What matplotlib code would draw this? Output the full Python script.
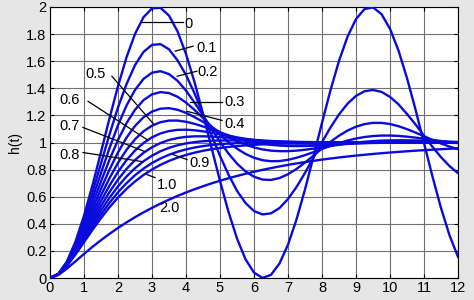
import matplotlib
matplotlib.use("Agg")
import matplotlib.pyplot as plt

plt.rcParams['font.family'] = ['Liberation Sans', 'DejaVu Sans']

t = [0, 0.25, 0.5, 0.75, 1, 1.25, 1.5, 1.75, 2, 2.25, 2.5, 2.75, 3, 3.25, 3.5, 3.75,
     4, 4.25, 4.5, 4.75, 5, 5.25, 5.5, 5.75, 6, 6.25, 6.5, 6.75, 7, 7.25, 7.5, 7.75,
     8, 8.25, 8.5, 8.75, 9, 9.25, 9.5, 9.75, 10, 10.25, 10.5, 10.75, 11, 11.25, 11.5,
     11.75, 12]

h_z00 = [0, 0.0311, 0.1224, 0.2683, 0.4597, 0.6847, 0.9293, 1.1782, 1.4161, 1.6282,
         1.8011, 1.9243, 1.9900, 1.9941, 1.9365, 1.8206, 1.6536, 1.4461, 1.2108, 0.9624,
         0.7163, 0.4879, 0.2913, 0.1388, 0.0398, 0.0006, 0.0234, 0.1070, 0.2461, 0.4318,
         0.6534, 0.8962, 1.1455, 1.3857, 1.6020, 1.7809, 1.9111, 1.9848, 1.9972, 1.9476,
         1.8391, 1.6786, 1.4755, 1.2432, 0.9956, 0.7483, 0.5167, 0.3152, 0.1561]
h_z01 = [0, 0.0306, 0.1184, 0.2556, 0.4310, 0.6324, 0.8464, 1.0594, 1.2581, 1.4306,
         1.5708, 1.6684, 1.7205, 1.7260, 1.6875, 1.6067, 1.4984, 1.3632, 1.2108, 1.0539,
         0.9013, 0.7632, 0.6432, 0.5536, 0.4941, 0.4693, 0.4772, 0.5163, 0.5830, 0.6716,
         0.7758, 0.8886, 1.0026, 1.1109, 1.2070, 1.2862, 1.3437, 1.3783, 1.3877, 1.3736,
         1.3366, 1.2819, 1.2103, 1.1335, 1.0503, 0.9680, 0.8918, 0.8260, 0.7736]
h_z02 = [0, 0.0301, 0.1146, 0.2436, 0.4052, 0.5862, 0.7747, 0.9588, 1.1280, 1.2726,
         1.3877, 1.4692, 1.5152, 1.5261, 1.5050, 1.4557, 1.3829, 1.2950, 1.2007, 1.1014,
         1.0055, 0.9185, 0.8444, 0.7868, 0.7473, 0.7264, 0.7237, 0.7377, 0.7657, 0.8050,
         0.8519, 0.9035, 0.9556, 1.0055, 1.0504, 1.0879, 1.1167, 1.1357, 1.1450, 1.1448,
         1.1361, 1.1201, 1.0986, 1.0732, 1.0466, 1.0186, 0.9927, 0.9698, 0.9506]
h_z03 = [0, 0.0296, 0.1111, 0.2326, 0.3814, 0.5454, 0.7125, 0.8731, 1.0187, 1.1428,
         1.2415, 1.3124, 1.3556, 1.3720, 1.3647, 1.3378, 1.2947, 1.2410, 1.1799, 1.1182,
         1.0573, 1.0019, 0.9545, 0.9157, 0.8874, 0.8693, 0.8619, 0.8632, 0.8721, 0.8873,
         0.9068, 0.9289, 0.9522, 0.9749, 0.9959, 1.0142, 1.0292, 1.0404, 1.0476, 1.0512,
         1.0513, 1.0484, 1.0431, 1.0360, 1.0278, 1.0193, 1.0108, 1.0028, 0.9958]
h_z04 = [0, 0.0291, 0.1077, 0.2222, 0.3599, 0.5091, 0.6583, 0.7998, 0.9271, 1.0356,
         1.1221, 1.1862, 1.2284, 1.2496, 1.2532, 1.2418, 1.2188, 1.1874, 1.1527, 1.1133,
         1.0761, 1.0411, 1.0102, 0.9841, 0.9638, 0.9490, 0.9398, 0.9359, 0.9362, 0.9400,
         0.9465, 0.9549, 0.9642, 0.9739, 0.9833, 0.9920, 0.9995, 1.0057, 1.0104, 1.0137,
         1.0156, 1.0164, 1.0160, 1.0148, 1.0130, 1.0108, 1.0084, 1.0060, 1.0036]
h_z05 = [0, 0.0286, 0.1044, 0.2127, 0.3403, 0.4759, 0.6105, 0.7366, 0.8495, 0.9456,
         1.0234, 1.0827, 1.1243, 1.1500, 1.1617, 1.1618, 1.1532, 1.1378, 1.1183, 1.0972,
         1.0744, 1.0533, 1.0336, 1.0165, 1.0024, 0.9911, 0.9828, 0.9774, 0.9744, 0.9735,
         0.9742, 0.9761, 0.9790, 0.9824, 0.9860, 0.9896, 0.9929, 0.9959, 0.9985, 1.0006,
         1.0022, 1.0033, 1.0040, 1.0043, 1.0043, 1.0041, 1.0037, 1.0031, 1.0026]
h_z06 = [0, 0.0282, 0.1013, 0.2038, 0.3223, 0.4466, 0.5684, 0.6819, 0.7830, 0.8696,
         0.9407, 0.9966, 1.0382, 1.0669, 1.0846, 1.0932, 1.0945, 1.0905, 1.0826, 1.0723,
         1.0608, 1.0491, 1.0377, 1.0272, 1.0180, 1.0102, 1.0039, 0.9990, 0.9955, 0.9931,
         0.9917, 0.9911, 0.9911, 0.9916, 0.9924, 0.9935, 0.9946, 0.9957, 0.9967, 0.9977,
         0.9985, 0.9992, 0.9998, 1.0002, 1.0005, 1.0007, 1.0008, 1.0009, 1.0008]
h_z07 = [0, 0.0277, 0.0983, 0.1953, 0.3060, 0.4202, 0.5313, 0.6340, 0.7257, 0.8047,
         0.8705, 0.9239, 0.9652, 0.9964, 1.0185, 1.0329, 1.0416, 1.0454, 1.0458, 1.0436,
         1.0399, 1.0350, 1.0298, 1.0246, 1.0196, 1.0151, 1.0111, 1.0077, 1.0049, 1.0027,
         1.0010, 0.9997, 0.9988, 0.9983, 0.9980, 0.9978, 0.9979, 0.9980, 0.9982, 0.9984,
         0.9987, 0.9990, 0.9992, 0.9994, 0.9996, 0.9998, 0.9999, 1.0000, 1.0000]
h_z08 = [0, 0.0274, 0.0955, 0.1875, 0.2909, 0.3965, 0.4982, 0.5921, 0.6759, 0.7488,
         0.8104, 0.8615, 0.9028, 0.9355, 0.9607, 0.9796, 0.9933, 1.0029, 1.0091, 1.0129,
         1.0147, 1.0152, 1.0147, 1.0137, 1.0122, 1.0107, 1.0091, 1.0075, 1.0061, 1.0048,
         1.0038, 1.0028, 1.0021, 1.0015, 1.0010, 1.0007, 1.0004, 1.0002, 1.0001, 1.0000,
         0.9999, 0.9999, 0.9999, 0.9999, 0.9999, 1.0000, 1.0000, 1.0000, 1.0000]
h_z09 = [0, 0.0269, 0.0929, 0.1802, 0.2769, 0.3748, 0.4687, 0.5551, 0.6324, 0.7001,
         0.7583, 0.8074, 0.8485, 0.8822, 0.9096, 0.9317, 0.9492, 0.9628, 0.9734, 0.9815,
         0.9876, 0.9920, 0.9953, 0.9976, 0.9992, 1.0003, 1.0009, 1.0013, 1.0015, 1.0015,
         1.0015, 1.0014, 1.0013, 1.0012, 1.0011, 1.0010, 1.0009, 1.0008, 1.0007, 1.0006,
         1.0005, 1.0004, 1.0004, 1.0003, 1.0003, 1.0002, 1.0002, 1.0001, 1.0001]
h_z10 = [0, 0.0265, 0.0902, 0.1734, 0.2642, 0.3554, 0.4422, 0.5221, 0.5940, 0.6575,
         0.7127, 0.7603, 0.8009, 0.8352, 0.8641, 0.8883, 0.9084, 0.9251, 0.9389, 0.9503,
         0.9596, 0.9672, 0.9734, 0.9785, 0.9826, 0.9860, 0.9887, 0.9909, 0.9927, 0.9941,
         0.9953, 0.9962, 0.9970, 0.9976, 0.9981, 0.9985, 0.9988, 0.9990, 0.9992, 0.9994,
         0.9995, 0.9996, 0.9997, 0.9998, 0.9998, 0.9998, 0.9999, 0.9999, 0.9999]
h_z20 = [0, 0.0228, 0.0697, 0.1234, 0.1777, 0.2299, 0.2794, 0.3259, 0.3695, 0.4103,
         0.4486, 0.4842, 0.5177, 0.5489, 0.5782, 0.6054, 0.6311, 0.6549, 0.6773, 0.6982,
         0.7178, 0.7360, 0.7531, 0.7691, 0.7841, 0.7981, 0.8111, 0.8234, 0.8348, 0.8455,
         0.8555, 0.8649, 0.8736, 0.8818, 0.8895, 0.8966, 0.9033, 0.9096, 0.9154, 0.9209,
         0.9260, 0.9308, 0.9353, 0.9395, 0.9434, 0.9471, 0.9505, 0.9537, 0.9567]

series = [h_z00, h_z01, h_z02, h_z03, h_z04, h_z05, h_z06, h_z07, h_z08, h_z09, h_z10, h_z20]

labels = ["0", "0.1", "0.2", "0.3", "0.4", "0.5", "0.6", "0.7", "0.8", "0.9", "1.0", "2.0"]
# label text anchor (x, y) and leader line (x0, y0, x1, y1) in data units
label_pos = [(3.95, 1.874), (4.30, 1.70), (4.33, 1.52), (5.12, 1.296), (5.12, 1.133),
             (1.03, 1.504), (0.27, 1.311), (0.27, 1.119), (0.27, 0.911), (4.10, 0.852),
             (3.13, 0.689), (3.22, 0.519)]
leaders = [(2.71, 1.889, 3.91, 1.889), (3.68, 1.674, 4.21, 1.711), (3.74, 1.489, 4.32, 1.526),
           (4.12, 1.296, 5.06, 1.296), (4.03, 1.230, 5.06, 1.163), (1.82, 1.489, 3.03, 1.141),
           (1.12, 1.304, 2.85, 1.022), (0.97, 1.111, 2.79, 0.933), (0.97, 0.926, 2.71, 0.859),
           (3.62, 0.911, 4.03, 0.874), (2.85, 0.763, 3.09, 0.741), None]

fig = plt.figure(figsize=(4.74, 3.0), dpi=100, facecolor='#e6e6e6')
ax = fig.add_axes([50 / 474, 22 / 300, 408 / 474, 271 / 300])
ax.set_facecolor('white')

for s in series:
    ax.plot(t, s, color='#0a0adc', linewidth=1.7, solid_joinstyle='round', zorder=3)

for lab, (tx, ty), ld in zip(labels, label_pos, leaders):
    if ld is not None:
        ax.plot([ld[0], ld[2]], [ld[1], ld[3]], color='black', linewidth=0.9, zorder=4)
    ax.text(tx, ty, lab, fontsize=10.5, ha='left', va='center', color='black', zorder=5)

ax.set_xlim(0, 12)
ax.set_ylim(0, 2)
ax.set_xticks(range(0, 13))
yt = [0, 0.2, 0.4, 0.6, 0.8, 1, 1.2, 1.4, 1.6, 1.8, 2]
ax.set_yticks(yt)
ax.set_yticklabels(["0", "0.2", "0.4", "0.6", "0.8", "1", "1.2", "1.4", "1.6", "1.8", "2"])
ax.grid(True, color='#707070', linewidth=0.8, linestyle='-', zorder=0)
ax.set_axisbelow(True)
ax.tick_params(direction='in', top=True, right=True, labelsize=10.5, length=3, pad=2.5)
for sp in ax.spines.values():
    sp.set_color('black')
    sp.set_linewidth(0.8)
ax.set_ylabel("h(t)", fontsize=10, labelpad=3)

fig.savefig("out.png", dpi=100, facecolor=fig.get_facecolor())
